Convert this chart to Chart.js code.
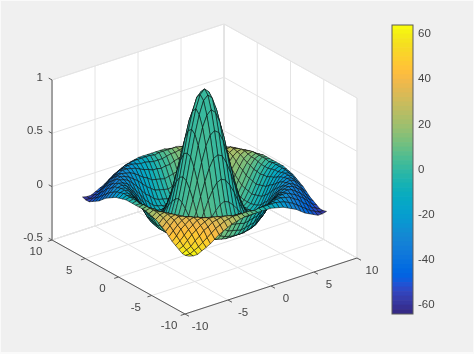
<!DOCTYPE html>
<html>
<head>
<meta charset="utf-8">
<title>surf</title>
<script src="https://cdn.jsdelivr.net/npm/chart.js@4"></script>
<style>
  html, body { margin: 0; padding: 0; background: #fafafa; overflow: hidden; }
  #frame { position: absolute; left: 1px; top: 1px; width: 472px; height: 351px; background: #f0f0f0; }
  #surface { position: absolute; left: 0; top: 0; }
  #colorbar { position: absolute; left: 372px; top: 0; }
</style>
</head>
<body>
<div id="frame"></div>
<canvas id="surface" width="474" height="354"></canvas>
<canvas id="colorbar" width="102" height="354"></canvas>
<script>
// -----------------------------------------------------------
// DATA
// -----------------------------------------------------------

const xGrid = [-8,-7.5,-7,-6.5,-6,-5.5,-5,-4.5,-4,-3.5,-3,-2.5,-2,-1.5,-1,-.5,0,.5,1,1.5,2,2.5,3,3.5,4,4.5,5,5.5,6,6.5,7,7.5,8];
const yGrid = [-8,-7.5,-7,-6.5,-6,-5.5,-5,-4.5,-4,-3.5,-3,-2.5,-2,-1.5,-1,-.5,0,.5,1,1.5,2,2.5,3,3.5,4,4.5,5,5.5,6,6.5,7,7.5,8];

// height of the surface, one row per y, one column per x
const zValues = [
[-.08,-.09,-.09,-.07,-.05,-.03,.00,.03,.05,.07,.09,.10,.11,.12,.12,.12,.12,.12,.12,.12,.11,.10,.09,.07,.05,.03,.00,-.03,-.05,-.07,-.09,-.09,-.08],
[-.09,-.09,-.07,-.05,-.02,.01,.04,.07,.09,.11,.12,.13,.13,.13,.13,.13,.12,.13,.13,.13,.13,.13,.12,.11,.09,.07,.04,.01,-.02,-.05,-.07,-.09,-.09],
[-.09,-.07,-.05,-.01,.02,.06,.08,.11,.12,.13,.13,.12,.11,.11,.10,.09,.09,.09,.10,.11,.11,.12,.13,.13,.12,.11,.08,.06,.02,-.01,-.05,-.07,-.09],
[-.07,-.05,-.01,.03,.06,.09,.11,.13,.13,.12,.11,.09,.07,.06,.04,.04,.03,.04,.04,.06,.07,.09,.11,.12,.13,.13,.11,.09,.06,.03,-.01,-.05,-.07],
[-.05,-.02,.02,.06,.09,.12,.13,.12,.11,.09,.06,.03,.01,-.02,-.03,-.04,-.05,-.04,-.03,-.02,.01,.03,.06,.09,.11,.12,.13,.12,.09,.06,.02,-.02,-.05],
[-.03,.01,.06,.09,.12,.13,.12,.10,.07,.04,.00,-.04,-.07,-.10,-.11,-.12,-.13,-.12,-.11,-.10,-.07,-.04,.00,.04,.07,.10,.12,.13,.12,.09,.06,.01,-.03],
[.00,.04,.08,.11,.13,.12,.10,.06,.02,-.03,-.08,-.11,-.15,-.17,-.18,-.19,-.19,-.19,-.18,-.17,-.15,-.11,-.08,-.03,.02,.06,.10,.12,.13,.11,.08,.04,.00],
[.03,.07,.11,.13,.12,.10,.06,.01,-.04,-.10,-.14,-.18,-.20,-.21,-.22,-.22,-.22,-.22,-.22,-.21,-.20,-.18,-.14,-.10,-.04,.01,.06,.10,.12,.13,.11,.07,.03],
[.05,.09,.12,.13,.11,.07,.02,-.04,-.10,-.16,-.19,-.21,-.22,-.21,-.20,-.19,-.19,-.19,-.20,-.21,-.22,-.21,-.19,-.16,-.10,-.04,.02,.07,.11,.13,.12,.09,.05],
[.07,.11,.13,.12,.09,.04,-.03,-.10,-.16,-.20,-.22,-.21,-.19,-.16,-.13,-.11,-.10,-.11,-.13,-.16,-.19,-.21,-.22,-.20,-.16,-.10,-.03,.04,.09,.12,.13,.11,.07],
[.09,.12,.13,.11,.06,.00,-.08,-.14,-.19,-.22,-.21,-.18,-.12,-.06,-.01,.03,.05,.03,-.01,-.06,-.12,-.18,-.21,-.22,-.19,-.14,-.08,.00,.06,.11,.13,.12,.09],
[.10,.13,.12,.09,.03,-.04,-.11,-.18,-.21,-.21,-.18,-.11,-.02,.08,.16,.22,.24,.22,.16,.08,-.02,-.11,-.18,-.21,-.21,-.18,-.11,-.04,.03,.09,.12,.13,.10],
[.11,.13,.11,.07,.01,-.07,-.15,-.20,-.22,-.19,-.12,-.02,.11,.24,.35,.43,.45,.43,.35,.24,.11,-.02,-.12,-.19,-.22,-.20,-.15,-.07,.01,.07,.11,.13,.11],
[.12,.13,.11,.06,-.02,-.10,-.17,-.21,-.21,-.16,-.06,.08,.24,.40,.54,.63,.66,.63,.54,.40,.24,.08,-.06,-.16,-.21,-.21,-.17,-.10,-.02,.06,.11,.13,.12],
[.12,.13,.10,.04,-.03,-.11,-.18,-.22,-.20,-.13,-.01,.16,.35,.54,.70,.80,.84,.80,.70,.54,.35,.16,-.01,-.13,-.20,-.22,-.18,-.11,-.03,.04,.10,.13,.12],
[.12,.13,.09,.04,-.04,-.12,-.19,-.22,-.19,-.11,.03,.22,.43,.63,.80,.92,.96,.92,.80,.63,.43,.22,.03,-.11,-.19,-.22,-.19,-.12,-.04,.04,.09,.13,.12],
[.12,.12,.09,.03,-.05,-.13,-.19,-.22,-.19,-.10,.05,.24,.45,.66,.84,.96,1,.96,.84,.66,.45,.24,.05,-.10,-.19,-.22,-.19,-.13,-.05,.03,.09,.12,.12],
[.12,.13,.09,.04,-.04,-.12,-.19,-.22,-.19,-.11,.03,.22,.43,.63,.80,.92,.96,.92,.80,.63,.43,.22,.03,-.11,-.19,-.22,-.19,-.12,-.04,.04,.09,.13,.12],
[.12,.13,.10,.04,-.03,-.11,-.18,-.22,-.20,-.13,-.01,.16,.35,.54,.70,.80,.84,.80,.70,.54,.35,.16,-.01,-.13,-.20,-.22,-.18,-.11,-.03,.04,.10,.13,.12],
[.12,.13,.11,.06,-.02,-.10,-.17,-.21,-.21,-.16,-.06,.08,.24,.40,.54,.63,.66,.63,.54,.40,.24,.08,-.06,-.16,-.21,-.21,-.17,-.10,-.02,.06,.11,.13,.12],
[.11,.13,.11,.07,.01,-.07,-.15,-.20,-.22,-.19,-.12,-.02,.11,.24,.35,.43,.45,.43,.35,.24,.11,-.02,-.12,-.19,-.22,-.20,-.15,-.07,.01,.07,.11,.13,.11],
[.10,.13,.12,.09,.03,-.04,-.11,-.18,-.21,-.21,-.18,-.11,-.02,.08,.16,.22,.24,.22,.16,.08,-.02,-.11,-.18,-.21,-.21,-.18,-.11,-.04,.03,.09,.12,.13,.10],
[.09,.12,.13,.11,.06,.00,-.08,-.14,-.19,-.22,-.21,-.18,-.12,-.06,-.01,.03,.05,.03,-.01,-.06,-.12,-.18,-.21,-.22,-.19,-.14,-.08,.00,.06,.11,.13,.12,.09],
[.07,.11,.13,.12,.09,.04,-.03,-.10,-.16,-.20,-.22,-.21,-.19,-.16,-.13,-.11,-.10,-.11,-.13,-.16,-.19,-.21,-.22,-.20,-.16,-.10,-.03,.04,.09,.12,.13,.11,.07],
[.05,.09,.12,.13,.11,.07,.02,-.04,-.10,-.16,-.19,-.21,-.22,-.21,-.20,-.19,-.19,-.19,-.20,-.21,-.22,-.21,-.19,-.16,-.10,-.04,.02,.07,.11,.13,.12,.09,.05],
[.03,.07,.11,.13,.12,.10,.06,.01,-.04,-.10,-.14,-.18,-.20,-.21,-.22,-.22,-.22,-.22,-.22,-.21,-.20,-.18,-.14,-.10,-.04,.01,.06,.10,.12,.13,.11,.07,.03],
[.00,.04,.08,.11,.13,.12,.10,.06,.02,-.03,-.08,-.11,-.15,-.17,-.18,-.19,-.19,-.19,-.18,-.17,-.15,-.11,-.08,-.03,.02,.06,.10,.12,.13,.11,.08,.04,.00],
[-.03,.01,.06,.09,.12,.13,.12,.10,.07,.04,.00,-.04,-.07,-.10,-.11,-.12,-.13,-.12,-.11,-.10,-.07,-.04,.00,.04,.07,.10,.12,.13,.12,.09,.06,.01,-.03],
[-.05,-.02,.02,.06,.09,.12,.13,.12,.11,.09,.06,.03,.01,-.02,-.03,-.04,-.05,-.04,-.03,-.02,.01,.03,.06,.09,.11,.12,.13,.12,.09,.06,.02,-.02,-.05],
[-.07,-.05,-.01,.03,.06,.09,.11,.13,.13,.12,.11,.09,.07,.06,.04,.04,.03,.04,.04,.06,.07,.09,.11,.12,.13,.13,.11,.09,.06,.03,-.01,-.05,-.07],
[-.09,-.07,-.05,-.01,.02,.06,.08,.11,.12,.13,.13,.12,.11,.11,.10,.09,.09,.09,.10,.11,.11,.12,.13,.13,.12,.11,.08,.06,.02,-.01,-.05,-.07,-.09],
[-.09,-.09,-.07,-.05,-.02,.01,.04,.07,.09,.11,.12,.13,.13,.13,.13,.13,.12,.13,.13,.13,.13,.13,.12,.11,.09,.07,.04,.01,-.02,-.05,-.07,-.09,-.09],
[-.08,-.09,-.09,-.07,-.05,-.03,.00,.03,.05,.07,.09,.10,.11,.12,.12,.12,.12,.12,.12,.12,.11,.10,.09,.07,.05,.03,.00,-.03,-.05,-.07,-.09,-.09,-.08]
];

// colour value of each vertex, read against the colorbar
const cValues = [
[64,60,56,52,48,44,40,36,32,28,24,20,16,12,8,4,0,-4,-8,-12,-16,-20,-24,-28,-32,-36,-40,-44,-48,-52,-56,-60,-64],
[60,56,53,49,45,41,38,34,30,26,23,19,15,11,8,4,0,-4,-8,-11,-15,-19,-23,-26,-30,-34,-38,-41,-45,-49,-53,-56,-60],
[56,53,49,46,42,39,35,32,28,25,21,18,14,11,7,4,0,-4,-7,-11,-14,-18,-21,-25,-28,-32,-35,-39,-42,-46,-49,-53,-56],
[52,49,46,42,39,36,33,29,26,23,20,16,13,10,7,3,0,-3,-7,-10,-13,-16,-20,-23,-26,-29,-33,-36,-39,-42,-46,-49,-52],
[48,45,42,39,36,33,30,27,24,21,18,15,12,9,6,3,0,-3,-6,-9,-12,-15,-18,-21,-24,-27,-30,-33,-36,-39,-42,-45,-48],
[44,41,39,36,33,30,28,25,22,19,17,14,11,8,6,3,0,-3,-6,-8,-11,-14,-17,-19,-22,-25,-28,-30,-33,-36,-39,-41,-44],
[40,38,35,33,30,28,25,23,20,18,15,13,10,8,5,3,0,-3,-5,-8,-10,-13,-15,-18,-20,-23,-25,-28,-30,-33,-35,-38,-40],
[36,34,32,29,27,25,23,20,18,16,14,11,9,7,5,2,0,-2,-5,-7,-9,-11,-14,-16,-18,-20,-23,-25,-27,-29,-32,-34,-36],
[32,30,28,26,24,22,20,18,16,14,12,10,8,6,4,2,0,-2,-4,-6,-8,-10,-12,-14,-16,-18,-20,-22,-24,-26,-28,-30,-32],
[28,26,25,23,21,19,18,16,14,12,11,9,7,5,4,2,0,-2,-4,-5,-7,-9,-11,-12,-14,-16,-18,-19,-21,-23,-25,-26,-28],
[24,23,21,20,18,17,15,14,12,11,9,8,6,5,3,2,0,-2,-3,-5,-6,-8,-9,-11,-12,-14,-15,-17,-18,-20,-21,-23,-24],
[20,19,18,16,15,14,13,11,10,9,8,6,5,4,3,1,0,-1,-3,-4,-5,-6,-8,-9,-10,-11,-13,-14,-15,-16,-18,-19,-20],
[16,15,14,13,12,11,10,9,8,7,6,5,4,3,2,1,0,-1,-2,-3,-4,-5,-6,-7,-8,-9,-10,-11,-12,-13,-14,-15,-16],
[12,11,11,10,9,8,8,7,6,5,5,4,3,2,2,1,0,-1,-2,-2,-3,-4,-5,-5,-6,-7,-8,-8,-9,-10,-11,-11,-12],
[8,8,7,7,6,6,5,5,4,4,3,3,2,2,1,1,0,-1,-1,-2,-2,-3,-3,-4,-4,-5,-5,-6,-6,-7,-7,-8,-8],
[4,4,4,3,3,3,3,2,2,2,2,1,1,1,1,0,0,0,-1,-1,-1,-1,-2,-2,-2,-2,-3,-3,-3,-3,-4,-4,-4],
[0,0,0,0,0,0,0,0,0,0,0,0,0,0,0,0,0,0,0,0,0,0,0,0,0,0,0,0,0,0,0,0,0],
[-4,-4,-4,-3,-3,-3,-3,-2,-2,-2,-2,-1,-1,-1,-1,0,0,0,1,1,1,1,2,2,2,2,3,3,3,3,4,4,4],
[-8,-8,-7,-7,-6,-6,-5,-5,-4,-4,-3,-3,-2,-2,-1,-1,0,1,1,2,2,3,3,4,4,5,5,6,6,7,7,8,8],
[-12,-11,-11,-10,-9,-8,-8,-7,-6,-5,-5,-4,-3,-2,-2,-1,0,1,2,2,3,4,5,5,6,7,8,8,9,10,11,11,12],
[-16,-15,-14,-13,-12,-11,-10,-9,-8,-7,-6,-5,-4,-3,-2,-1,0,1,2,3,4,5,6,7,8,9,10,11,12,13,14,15,16],
[-20,-19,-18,-16,-15,-14,-13,-11,-10,-9,-8,-6,-5,-4,-3,-1,0,1,3,4,5,6,8,9,10,11,13,14,15,16,18,19,20],
[-24,-23,-21,-20,-18,-17,-15,-14,-12,-11,-9,-8,-6,-5,-3,-2,0,2,3,5,6,8,9,11,12,14,15,17,18,20,21,23,24],
[-28,-26,-25,-23,-21,-19,-18,-16,-14,-12,-11,-9,-7,-5,-4,-2,0,2,4,5,7,9,11,12,14,16,18,19,21,23,25,26,28],
[-32,-30,-28,-26,-24,-22,-20,-18,-16,-14,-12,-10,-8,-6,-4,-2,0,2,4,6,8,10,12,14,16,18,20,22,24,26,28,30,32],
[-36,-34,-32,-29,-27,-25,-23,-20,-18,-16,-14,-11,-9,-7,-5,-2,0,2,5,7,9,11,14,16,18,20,23,25,27,29,32,34,36],
[-40,-38,-35,-33,-30,-28,-25,-23,-20,-18,-15,-13,-10,-8,-5,-3,0,3,5,8,10,13,15,18,20,23,25,28,30,33,35,38,40],
[-44,-41,-39,-36,-33,-30,-28,-25,-22,-19,-17,-14,-11,-8,-6,-3,0,3,6,8,11,14,17,19,22,25,28,30,33,36,39,41,44],
[-48,-45,-42,-39,-36,-33,-30,-27,-24,-21,-18,-15,-12,-9,-6,-3,0,3,6,9,12,15,18,21,24,27,30,33,36,39,42,45,48],
[-52,-49,-46,-42,-39,-36,-33,-29,-26,-23,-20,-16,-13,-10,-7,-3,0,3,7,10,13,16,20,23,26,29,33,36,39,42,46,49,52],
[-56,-53,-49,-46,-42,-39,-35,-32,-28,-25,-21,-18,-14,-11,-7,-4,0,4,7,11,14,18,21,25,28,32,35,39,42,46,49,53,56],
[-60,-56,-53,-49,-45,-41,-38,-34,-30,-26,-23,-19,-15,-11,-8,-4,0,4,8,11,15,19,23,26,30,34,38,41,45,49,53,56,60],
[-64,-60,-56,-52,-48,-44,-40,-36,-32,-28,-24,-20,-16,-12,-8,-4,0,4,8,12,16,20,24,28,32,36,40,44,48,52,56,60,64]
];

const xTicks = [-10, -5, 0, 5, 10];
const yTicks = [-10, -5, 0, 5, 10];
const zTicks = [-0.5, 0, 0.5, 1];
const colorbarTicks = [-60, -40, -20, 0, 20, 40, 60];
const colorLimits = [-64, 64];

// parula, 64 levels, bottom of the colorbar first
const parula = [
[.2081,.1663,.5292],[.2116,.1898,.5777],[.2123,.2138,.6270],[.2081,.2386,.6771],[.1959,.2645,.7279],[.1707,.2919,.7792],[.1253,.3242,.8303],[.0591,.3598,.8683],
[.0117,.3875,.8820],[.0060,.4086,.8828],[.0165,.4266,.8786],[.0329,.4430,.8720],[.0498,.4586,.8641],[.0629,.4737,.8554],[.0723,.4887,.8467],[.0779,.5040,.8384],
[.0793,.5200,.8312],[.0749,.5375,.8263],[.0641,.5570,.8240],[.0488,.5772,.8228],[.0343,.5966,.8199],[.0265,.6137,.8135],[.0239,.6287,.8038],[.0231,.6418,.7913],
[.0228,.6535,.7768],[.0267,.6642,.7607],[.0384,.6743,.7436],[.0590,.6838,.7254],[.0843,.6928,.7062],[.1133,.7015,.6859],[.1453,.7098,.6646],[.1801,.7177,.6424],
[.2178,.7250,.6193],[.2586,.7317,.5954],[.3022,.7376,.5712],[.3482,.7424,.5473],[.3953,.7459,.5244],[.4420,.7481,.5033],[.4871,.7491,.4840],[.5300,.7491,.4661],
[.5709,.7485,.4494],[.6099,.7473,.4337],[.6473,.7456,.4188],[.6834,.7435,.4044],[.7184,.7411,.3905],[.7525,.7384,.3768],[.7858,.7356,.3633],[.8185,.7327,.3498],
[.8507,.7299,.3360],[.8824,.7274,.3217],[.9139,.7258,.3063],[.9450,.7261,.2886],[.9739,.7314,.2666],[.9938,.7455,.2403],[.9990,.7653,.2164],[.9955,.7861,.1967],
[.9880,.8066,.1794],[.9789,.8271,.1633],[.9697,.8481,.1475],[.9626,.8705,.1309],[.9589,.8949,.1132],[.9598,.9218,.0948],[.9661,.9514,.0755],[.9763,.9831,.0538]
];

// -----------------------------------------------------------
// HELPERS
// -----------------------------------------------------------

const TEXT_COLOR = "#454545";
const AXIS_COLOR = "#5a5a5a";
const GRID_COLOR = "#e4e4e4";
const FONT = { family: "'Liberation Sans', Arial, sans-serif", size: 11.5 };

// view: the three box edges meeting at the front corner, in canvas units
function project(x, y, z) {
  return {
    x: 185 + 8.6 * (x + 10) - 6.65 * (y + 10),
    y: 314 - 2.8 * (x + 10) - 3.7 * (y + 10) - 106.7 * (z + 0.5)
  };
}

function levelColor(c) {
  const t = (c - colorLimits[0]) / (colorLimits[1] - colorLimits[0]);
  const rgb = parula[Math.min(parula.length - 1, Math.floor(t * parula.length))];
  return `rgb(${rgb.map(v => Math.round(v * 255)).join(",")})`;
}

function edge(a, b, color, width) {
  return {
    data: [project(...a), project(...b)],
    showLine: true, pointRadius: 0, borderColor: color, borderWidth: width, fill: false
  };
}

function wall(corners) {
  return {
    data: corners.map(c => project(...c)),
    showLine: true, pointRadius: 0, borderColor: GRID_COLOR, borderWidth: 1,
    backgroundColor: "#ffffff", fill: "shape"
  };
}

// -----------------------------------------------------------
// SURFACE CHART
// -----------------------------------------------------------

const xMin = xTicks[0], xMax = xTicks[4], yMin = yTicks[0], yMax = yTicks[4];
const zMin = zTicks[0], zMax = zTicks[3];

// listed far to near, reversed at the end since Chart.js paints the last dataset first
const layers = [];

layers.push(wall([[xMin,yMax,zMin],[xMax,yMax,zMin],[xMax,yMax,zMax],[xMin,yMax,zMax],[xMin,yMax,zMin]]));
layers.push(wall([[xMax,yMax,zMin],[xMax,yMin,zMin],[xMax,yMin,zMax],[xMax,yMax,zMax],[xMax,yMax,zMin]]));
layers.push(wall([[xMin,yMin,zMin],[xMax,yMin,zMin],[xMax,yMax,zMin],[xMin,yMax,zMin],[xMin,yMin,zMin]]));

xTicks.forEach(x => {
  layers.push(edge([x,yMin,zMin],[x,yMax,zMin], GRID_COLOR, 1));
  layers.push(edge([x,yMax,zMin],[x,yMax,zMax], GRID_COLOR, 1));
});
yTicks.forEach(y => {
  layers.push(edge([xMin,y,zMin],[xMax,y,zMin], GRID_COLOR, 1));
  layers.push(edge([xMax,y,zMin],[xMax,y,zMax], GRID_COLOR, 1));
});
zTicks.forEach(z => {
  layers.push(edge([xMin,yMax,z],[xMax,yMax,z], GRID_COLOR, 1));
  layers.push(edge([xMax,yMax,z],[xMax,yMin,z], GRID_COLOR, 1));
});

layers.push(edge([xMin,yMin,zMin],[xMax,yMin,zMin], AXIS_COLOR, 1));
layers.push(edge([xMin,yMin,zMin],[xMin,yMax,zMin], AXIS_COLOR, 1));
layers.push(edge([xMin,yMax,zMin],[xMin,yMax,zMax], AXIS_COLOR, 1));
xTicks.forEach(x => layers.push(edge([x,yMin,zMin],[x,yMin-0.6,zMin], AXIS_COLOR, 1)));
yTicks.forEach(y => layers.push(edge([xMin,y,zMin],[xMin-0.5,y,zMin], AXIS_COLOR, 1)));
zTicks.forEach(z => layers.push(edge([xMin,yMax,z],[xMin,yMax+0.5,z], AXIS_COLOR, 1)));

// camera sits on the -x,-y side, so walk the mesh from high to low indices
for (let j = yGrid.length - 2; j >= 0; j--) {
  for (let i = xGrid.length - 2; i >= 0; i--) {
    const corners = [[i,j],[i+1,j],[i+1,j+1],[i,j+1],[i,j]];
    layers.push({
      data: corners.map(([a,b]) => project(xGrid[a], yGrid[b], zValues[b][a])),
      showLine: true, pointRadius: 0, fill: "shape",
      backgroundColor: levelColor(cValues[j][i]),
      borderColor: "#0a0a0a", borderWidth: 0.55, borderJoinStyle: "round"
    });
  }
}

const tickLabelPlugin = {
  id: "tickLabels",
  afterDraw(chart) {
    const { ctx, scales } = chart;
    const put = (text, p, dx, dy, align) => {
      ctx.textAlign = align;
      ctx.fillText(text, scales.x.getPixelForValue(p.x) + dx, scales.y.getPixelForValue(p.y) + dy);
    };
    ctx.save();
    ctx.font = `${FONT.size}px ${FONT.family}`;
    ctx.fillStyle = TEXT_COLOR;
    ctx.textBaseline = "middle";
    xTicks.forEach(x => put(String(x), project(x, yMin, zMin), 15, 13, "center"));
    yTicks.forEach(y => put(String(y), project(xMin, y, zMin), -16, 12, "center"));
    zTicks.forEach(z => put(String(z), project(xMin, yMax, z), -9, -2, "right"));
    ctx.restore();
  }
};

new Chart(document.getElementById("surface"), {
  type: "scatter",
  data: { datasets: layers.reverse() },
  plugins: [tickLabelPlugin],
  options: {
    responsive: false,
    animation: false,
    events: [],
    layout: { padding: 0 },
    plugins: { legend: { display: false }, tooltip: { enabled: false } },
    scales: {
      x: { type: "linear", display: false, min: 0, max: 474 },
      y: { type: "linear", display: false, min: 0, max: 354, reverse: true }
    }
  }
});

// -----------------------------------------------------------
// COLORBAR
// -----------------------------------------------------------

const barStep = (colorLimits[1] - colorLimits[0]) / parula.length;

const outlinePlugin = {
  id: "barOutline",
  afterDraw(chart) {
    const { ctx, chartArea: a } = chart;
    ctx.save();
    ctx.strokeStyle = AXIS_COLOR;
    ctx.lineWidth = 1;
    ctx.strokeRect(a.left, a.top, a.right - a.left, a.bottom - a.top);
    ctx.restore();
  }
};

new Chart(document.getElementById("colorbar"), {
  type: "bar",
  data: {
    labels: [""],
    datasets: parula.map((_, k) => ({
      data: [[colorLimits[0] + k * barStep, colorLimits[0] + (k + 1) * barStep]],
      backgroundColor: levelColor(colorLimits[0] + (k + 0.5) * barStep),
      borderWidth: 0,
      categoryPercentage: 1,
      barPercentage: 1
    }))
  },
  plugins: [outlinePlugin],
  options: {
    responsive: false,
    animation: false,
    events: [],
    layout: { padding: { left: 20, top: 25, bottom: 40, right: 0 } },
    plugins: { legend: { display: false }, tooltip: { enabled: false } },
    scales: {
      x: { display: false, stacked: true },
      y: {
        position: "right",
        min: colorLimits[0],
        max: colorLimits[1],
        afterFit(scale) { scale.width = 61; },
        afterBuildTicks(scale) { scale.ticks = colorbarTicks.map(v => ({ value: v })); },
        border: { display: false },
        grid: { drawOnChartArea: false, drawTicks: true, lineWidth: 0, tickWidth: 1, tickLength: -3, tickColor: "#404040" },
        ticks: {
          color: TEXT_COLOR,
          font: FONT,
          padding: 8,
          autoSkip: false,
          callback: v => String(v)
        }
      }
    }
  }
});
</script>
</body>
</html>
